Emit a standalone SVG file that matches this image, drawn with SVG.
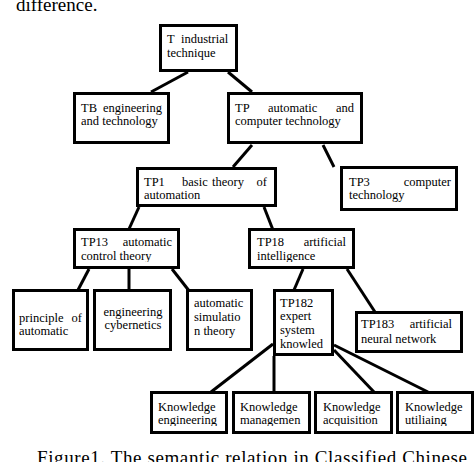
<svg xmlns="http://www.w3.org/2000/svg" width="474" height="462" viewBox="0 0 474 462">
<style>
.box{fill:#fff;stroke:#000;stroke-width:3}
.ln{stroke:#000;stroke-width:3;fill:none}
text{font-family:"Liberation Serif","Times New Roman",serif;font-size:12.5px;fill:#000}
.big{font-size:19px}
</style>
<defs>
<clipPath id="c13"><rect x="76" y="231" width="101" height="31"/></clipPath>
<clipPath id="c18"><rect x="251" y="231" width="101" height="31"/></clipPath>
<clipPath id="ck"><rect x="150" y="394" width="324" height="32"/></clipPath>
</defs>
<rect width="474" height="462" fill="#fff"/>
<text class="big" x="16" y="11">difference.</text>
<g id="connectors">
<line class="ln" x1="188" y1="72" x2="151" y2="92"/>
<line class="ln" x1="228" y1="72" x2="252" y2="92"/>
<line class="ln" x1="252" y1="145" x2="233" y2="167"/>
<line class="ln" x1="323" y1="145" x2="334" y2="167"/>
<line class="ln" x1="139" y1="207" x2="129" y2="229"/>
<line class="ln" x1="264" y1="207" x2="273" y2="230"/>
<line class="ln" x1="89" y1="269" x2="78" y2="290"/>
<line class="ln" x1="129" y1="269" x2="129" y2="290"/>
<line class="ln" x1="172" y1="269" x2="190" y2="292"/>
<line class="ln" x1="303" y1="269" x2="294" y2="290"/>
<line class="ln" x1="347" y1="269" x2="375" y2="312"/>
<line class="ln" x1="273" y1="344" x2="211" y2="392"/>
<line class="ln" x1="274" y1="356" x2="274" y2="392"/>
<line class="ln" x1="334" y1="350" x2="374" y2="392"/>
<line class="ln" x1="334" y1="345" x2="428" y2="392"/>
</g>
<g id="T"><rect class="box" x="160.5" y="25.5" width="76" height="45"/>
<text x="167" y="43">T</text><text x="181" y="43">industrial</text>
<text x="167" y="57">technique</text></g>
<g id="TB"><rect class="box" x="74.5" y="93.5" width="94" height="49"/>
<text x="81" y="112">TB</text><text x="162" y="112" text-anchor="end">engineering</text>
<text x="81" y="125">and technology</text></g>
<g id="TP"><rect class="box" x="228.5" y="93.5" width="133" height="49"/>
<text x="235" y="112">TP</text><text x="268" y="112">automatic</text><text x="354" y="112" text-anchor="end">and</text>
<text x="235" y="125">computer technology</text></g>
<g id="TP1"><rect class="box" x="137.5" y="168.5" width="138" height="37"/>
<text x="144" y="186">TP1</text><text x="182" y="186">basic</text><text x="212" y="186">theory</text><text x="267" y="186" text-anchor="end">of</text>
<text x="144" y="199">automation</text></g>
<g id="TP3"><rect class="box" x="341.5" y="167.5" width="115" height="42"/>
<text x="349" y="186">TP3</text><text x="451" y="186" text-anchor="end">computer</text>
<text x="349" y="199">technology</text></g>
<g id="TP13"><rect class="box" x="74.5" y="229.5" width="104" height="38"/>
<g clip-path="url(#c13)"><text x="81" y="246">TP13</text><text x="172" y="246" text-anchor="end">automatic</text>
<text x="81" y="260">control theory</text></g></g>
<g id="TP18"><rect class="box" x="249.5" y="229.5" width="104" height="38"/>
<g clip-path="url(#c18)"><text x="257" y="246">TP18</text><text x="346" y="246" text-anchor="end">artificial</text>
<text x="257" y="260">intelligence</text></g></g>
<g id="principle"><rect class="box" x="13.5" y="290.5" width="74" height="59"/>
<text x="19" y="322">principle</text><text x="82" y="322" text-anchor="end">of</text>
<text x="19" y="335">automatic</text></g>
<g id="engcyb"><rect class="box" x="94.5" y="290.5" width="76" height="59"/>
<text x="133" y="316" text-anchor="middle">engineering</text>
<text x="133" y="329" text-anchor="middle">cybernetics</text></g>
<g id="autosim"><rect class="box" x="187.5" y="290.5" width="64" height="59"/>
<text x="194" y="307">automatic</text><text x="194" y="321">simulatio</text><text x="194" y="335">n theory</text></g>
<g id="TP182"><rect class="box" x="274.5" y="290.5" width="58" height="64"/>
<text x="280" y="307">TP182</text><text x="280" y="320">expert</text><text x="280" y="334">system</text><text x="280" y="348">knowled</text></g>
<g id="TP183"><rect class="box" x="356.5" y="312.5" width="105" height="39"/>
<text x="361" y="328">TP183</text><text x="452" y="328" text-anchor="end">artificial</text>
<text x="361" y="343">neural  network</text></g>
<g id="KE"><rect class="box" x="151.5" y="392.5" width="75" height="40"/>
<g clip-path="url(#ck)"><text x="158" y="411">Knowledge</text><text x="158" y="424">engineering</text></g></g>
<g id="KM"><rect class="box" x="233.5" y="392.5" width="76" height="40"/>
<g clip-path="url(#ck)"><text x="240" y="411">Knowledge</text><text x="240" y="424">managemen</text></g></g>
<g id="KA"><rect class="box" x="315.5" y="392.5" width="76" height="40"/>
<g clip-path="url(#ck)"><text x="323" y="411">Knowledge</text><text x="323" y="424">acquisition</text></g></g>
<g id="KU"><rect class="box" x="397.5" y="392.5" width="75" height="40"/>
<g clip-path="url(#ck)"><text x="405" y="411">Knowledge</text><text x="405" y="424">utiliaing</text></g></g>
<text class="big" x="37" y="464" textLength="430" lengthAdjust="spacing">Figure1. The semantic relation in Classified Chinese</text>
</svg>
